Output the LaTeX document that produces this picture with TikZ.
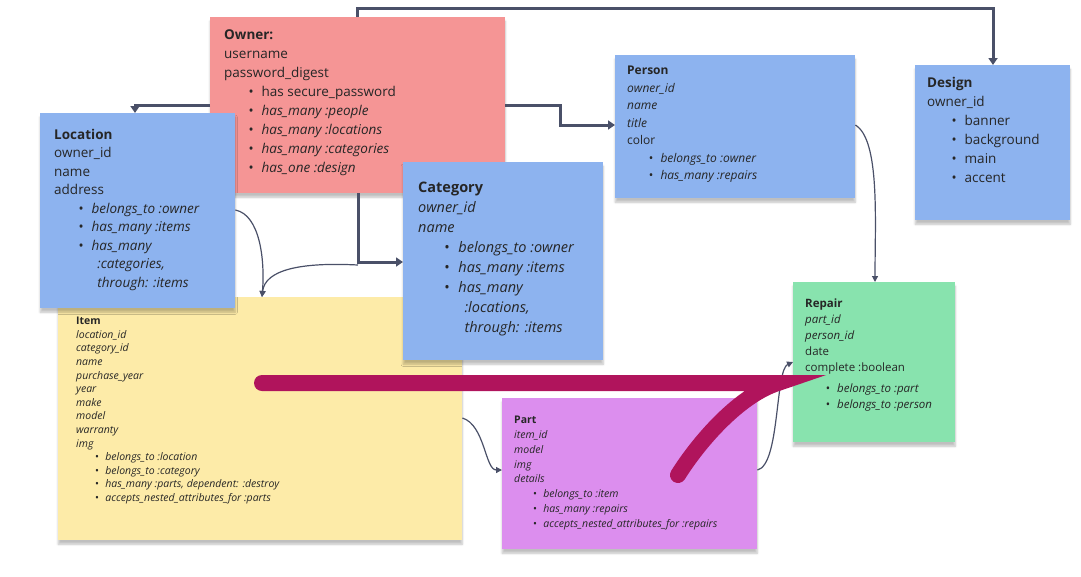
\documentclass[tikz,border=0pt]{standalone}
\usepackage{fontspec}
\setmainfont{Open Sans}
\usetikzlibrary{shadows.blur,arrows.meta}
\definecolor{ownerred}{HTML}{F59595}
\definecolor{boxblue}{HTML}{8DB3EF}
\definecolor{itemyellow}{HTML}{FDEBA8}
\definecolor{partviolet}{HTML}{DC8EEE}
\definecolor{repairgreen}{HTML}{88E3AE}
\definecolor{linkgray}{HTML}{4A5068}
\definecolor{markmagenta}{HTML}{B0145C}
\newcommand{\bl}[1]{\hspace*{1.8em}\textbullet\hspace{0.6em}#1}
\tikzset{
  card/.style={draw=none, anchor=north west, inner sep=0pt,
    blur shadow={shadow xshift=0pt, shadow yshift=-4pt, shadow blur steps=6, shadow opacity=25}},
  txt/.style={anchor=north west, align=left, inner sep=0pt, text=black!85},
  owns/.style={linkgray, line width=3pt, -{Triangle[length=7pt,width=9pt]}},
  rel/.style={linkgray, line width=1.2pt, -{Triangle[length=6pt,width=6pt]}}
}
\begin{document}
\begin{tikzpicture}[x=1pt,y=-1pt]
\useasboundingbox (0,0) rectangle (1081,576);
% cards
\node[card, fill=ownerred, minimum width=295pt, minimum height=176pt] (owner) at (210,17) {};
\node[card, fill=boxblue, minimum width=240pt, minimum height=143pt] (person) at (615,55) {};
\node[card, fill=boxblue, minimum width=155pt, minimum height=155pt] (design) at (915,65) {};
\node[card, fill=itemyellow, minimum width=404pt, minimum height=243pt] (item) at (58,297) {};
\node[card, fill=boxblue, minimum width=195pt, minimum height=195pt] (location) at (40,113) {};
\node[card, fill=boxblue, minimum width=200pt, minimum height=198pt] (category) at (403,162) {};
\node[card, fill=partviolet, minimum width=255pt, minimum height=151pt] (part) at (502,398) {};
\node[card, fill=repairgreen, minimum width=162pt, minimum height=160pt] (repair) at (793,282) {};
% texts
\node[txt, font=\fontsize{13.5}{19}\selectfont] (ownertxt) at (224,30) {\textbf{Owner:}\\username\\password\_digest\\
  \bl{has secure\_password}\\\bl{\itshape has\_many :people}\\\bl{\itshape has\_many :locations}\\
  \bl{\itshape has\_many :categories}\\\bl{\itshape has\_one :design}};
\node[txt, font=\fontsize{13.5}{18.5}\selectfont] (locationtxt) at (54,129) {\textbf{Location}\\owner\_id\\name\\address\\
  \bl{\itshape belongs\_to :owner}\\\bl{\itshape has\_many :items}\\\bl{\itshape has\_many}\\
  \hspace*{3.2em}\itshape :categories,\\\hspace*{3.2em}\itshape through: :items};
\node[txt, font=\fontsize{12}{17.5}\selectfont] (persontxt) at (627,66) {\textbf{Person}\\\itshape owner\_id\\\itshape name\\\itshape title\\color\\
  \bl{\itshape belongs\_to :owner}\\\bl{\itshape has\_many :repairs}};
\node[txt, font=\fontsize{13.5}{19}\selectfont] (designtxt) at (927,77) {\textbf{Design}\\owner\_id\\
  \bl{banner}\\\bl{background}\\\bl{main}\\\bl{accent}};
\node[txt, font=\fontsize{14.5}{20}\selectfont] (categorytxt) at (418,182) {\textbf{Category}\\\itshape owner\_id\\\itshape name\\
  \bl{\itshape belongs\_to :owner}\\\bl{\itshape has\_many :items}\\\bl{\itshape has\_many}\\
  \hspace*{3.2em}\itshape :locations,\\\hspace*{3.2em}\itshape through: :items};
\node[txt, font=\fontsize{10.5}{13.6}\selectfont] (itemtxt) at (76,317) {\textbf{Item}\\\itshape location\_id\\\itshape category\_id\\\itshape name\\
  \itshape purchase\_year\\\itshape year\\\itshape make\\\itshape model\\\itshape warranty\\\itshape img\\
  \bl{\itshape belongs\_to :location}\\\bl{\itshape belongs\_to :category}\\
  \bl{\itshape has\_many :parts, dependent: :destroy}\\\bl{\itshape accepts\_nested\_attributes\_for :parts}};
\node[txt, font=\fontsize{10.5}{14.8}\selectfont] (parttxt) at (514,416) {\textbf{Part}\\\itshape item\_id\\\itshape model\\\itshape img\\\itshape details\\
  \bl{\itshape belongs\_to :item}\\\bl{\itshape has\_many :repairs}\\\bl{\itshape accepts\_nested\_attributes\_for :repairs}};
\node[txt, font=\fontsize{11.5}{15.8}\selectfont] (repairtxt) at (805,299) {\textbf{Repair}\\\itshape part\_id\\\itshape person\_id\\date\\complete :boolean\\[6pt]
  \bl{\itshape belongs\_to :part}\\\bl{\itshape belongs\_to :person}};
% ownership links
\draw[owns] (owner.north) |- (993,8) -- (design.north -| 993,0);
\draw[owns] (owner.west |- 0,105) -| (location.north -| 135,0);
\draw[owns] (owner.east |- 0,105) -- (560,105) |- (person.west |- 0,125);
\draw[owns] (358,193) |- (category.west |- 0,262);
% relation links
\coordinate (itemtop) at (262,297);
\draw[rel] (location.east |- 0,210) .. controls (260,215) and (265,260) .. (itemtop);
\draw[rel] (358,265) .. controls (300,262) and (265,270) .. (itemtop);
\draw[rel] (person.east |- 0,125) .. controls (880,140) and (875,220) .. (repair.north -| 875,0);
\draw[rel] (item.east |- 0,418) .. controls (485,425) and (485,470) .. (part.west |- 0,470);
\draw[rel] (part.east |- 0,470) .. controls (780,465) and (775,370) .. (repair.west |- 0,362);
% marker stroke
\draw[markmagenta, line width=16pt, line cap=round] (262,383) -- (778,383)
  .. controls (740,395) and (700,440) .. (678,475);
\end{tikzpicture}
\end{document}
